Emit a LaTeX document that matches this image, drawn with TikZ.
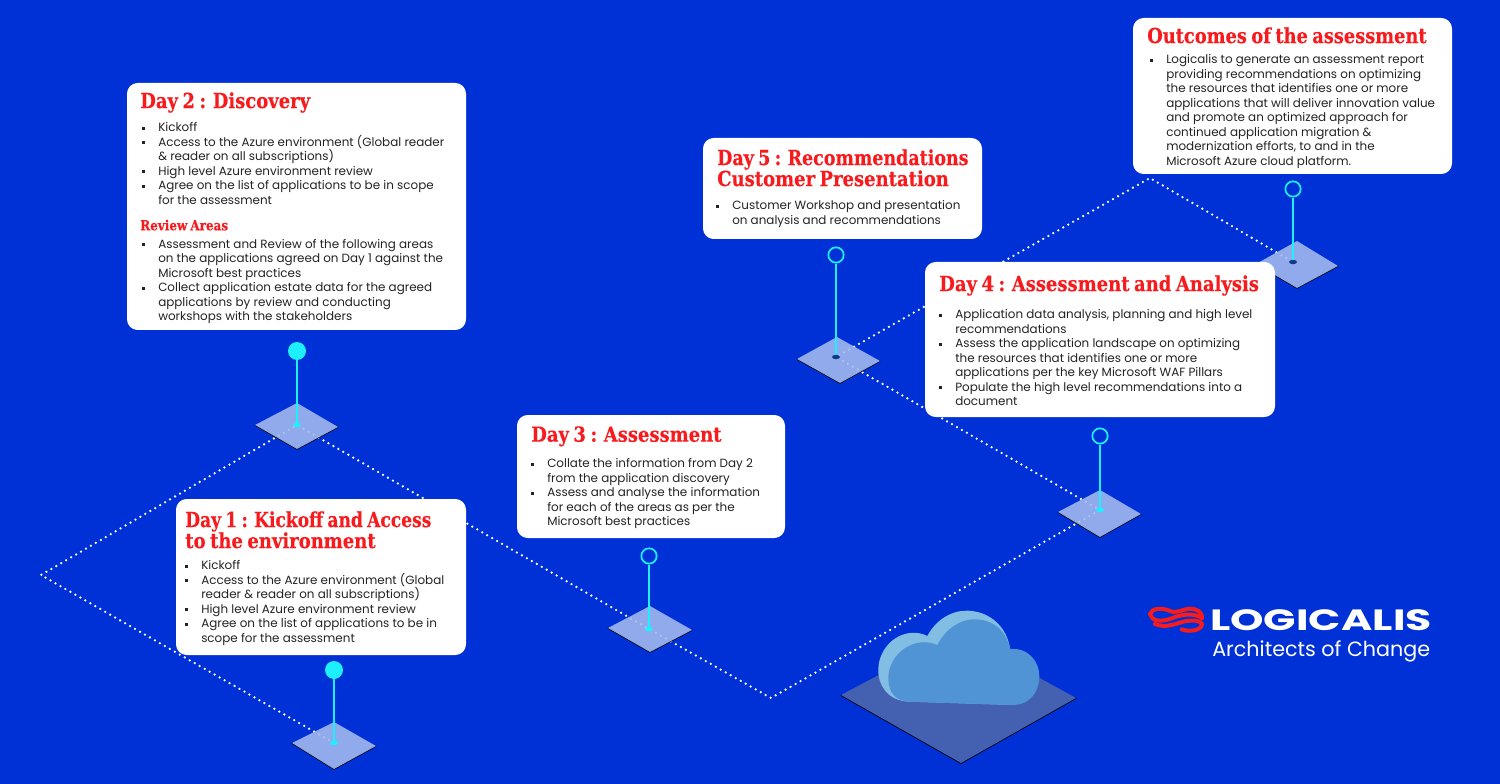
\documentclass[tikz,border=0pt]{standalone}
\usepackage{fontspec}
\setmainfont{Poppins}
\newfontfamily\slab[FakeStretch=0.865,WordSpace=0.72,FakeBold=0.25]{DejaVu Serif}
\newfontfamily\logofont[FakeStretch=1.45]{Poppins}
\definecolor{bg}{HTML}{0031D7}
\definecolor{ttl}{HTML}{F71B1E}
\definecolor{ink}{HTML}{232323}
\definecolor{cyn}{HTML}{1EEFFF}
\definecolor{plat}{HTML}{A4BBEE}
\definecolor{cloudplat}{HTML}{4460B0}
\definecolor{cloudback}{HTML}{82BDE4}
\definecolor{cloudfront}{HTML}{5094D6}
\definecolor{dotdark}{HTML}{123A8A}
\newcommand{\bodyfont}{\fontsize{8.95pt}{10.875pt}\selectfont\lineskiplimit=-100pt\relax}
\newcommand{\strutb}{\rule[-2.6pt]{0pt}{10.875pt}}
\newcommand{\bl}{\strutb\llap{\rule[1.7pt]{2.25pt}{2.25pt}\hspace{9.8pt}}}
\newcommand{\cl}{\strutb}
\tikzset{
  x=0.75pt,y=-0.75pt,
  card/.style={fill=white,rounded corners=8pt,inner sep=0pt},
  titletext/.style={anchor=north west,inner sep=0pt,align=left,text=ttl,font=\slab\bfseries\fontsize{15.6pt}{15.75pt}\selectfont},
  subtext/.style={anchor=north west,inner sep=0pt,align=left,text=ttl,font=\slab\bfseries\fontsize{10.4pt}{12pt}\selectfont},
  bodytext/.style={anchor=north west,inner sep=0pt,align=left,text=ink,font=\bodyfont},
  route/.style={draw=white,line width=1.9pt,line cap=round,dash pattern=on 0pt off 4.3pt},
  platform/.style={fill=plat,opacity=.88},
  platedge/.style={draw=black,line width=1pt},
  stem/.style={draw=cyn,line width=1.5pt},
  solidpin/.style={circle,fill=cyn,inner sep=0pt,minimum size=13.5pt},
  hollowpin/.style={circle,draw=cyn,line width=1.3pt,inner sep=0pt,minimum size=11.5pt},
}
\newcommand{\plat}[4]{%
  \draw[platedge] (#1) -- (#4) -- (#3);
  \fill[platform] (#1) -- (#2) -- (#3) -- (#4) -- cycle;
}
\begin{document}
\begin{tikzpicture}
\useasboundingbox (0,0) rectangle (1500,784);
\fill[bg] (0,0) rectangle (1500,784);

% route
\coordinate (turnL) at (41,575);
\coordinate (turnB) at (771,698);
\coordinate (turnT) at (1150,178);
\coordinate (b1) at (334,743);
\coordinate (b2) at (297,425);
\coordinate (b3) at (649,629);
\coordinate (b4) at (1100,510);
\coordinate (b5) at (836,357);
\coordinate (b6) at (1293,262);
\draw[route] (b1) -- (turnL) -- (b2) -- (b3) -- (turnB) -- (b4) -- (b5) -- (turnT) -- (b6);

% platforms
\plat{292,743}{334,722}{376,746}{334,769}
\plat{255,425}{297,403}{338,427}{297,449}
\plat{608,628}{650,606}{692,630}{650,652}
\plat{1058,512}{1100,490}{1141,514}{1100,537}
\plat{797,359}{837,337}{880,361}{840,383}
\plat{1256,264}{1297,241}{1338,266}{1297,288}

% pins
\node[solidpin] (p1) at (334,670) {};
\node[solidpin] (p2) at (297,351) {};
\node[hollowpin] (p3) at (649,556) {};
\node[hollowpin] (p4) at (1100,436) {};
\node[hollowpin] (p5) at (836,255) {};
\node[hollowpin] (p6) at (1293,189) {};
\draw[stem] (p1) -- (b1);
\draw[stem] (p2) -- (b2);
\draw[stem] (p3) -- (b3);
\draw[stem] (p4) -- (b4);
\draw[stem] (p5) -- (b5);
\draw[stem] (p6) -- (b6);
\fill[cyn] (b1) ellipse (4 and 2.2);
\fill[cyn] (b2) ellipse (4 and 2.2);
\fill[cyn] (b3) ellipse (4 and 2.2);
\fill[cyn] (b4) ellipse (4 and 2.2);
\fill[dotdark] (b5) ellipse (4 and 2.2);
\fill[dotdark] (b6) ellipse (4 and 2.2);

% cloud platform
\draw[black,line width=1.2pt] (841,695) -- (961,763) -- (1076,698);
\fill[cloudplat] (841,695) -- (958,633) -- (1076,698) -- (961,763) -- cycle;

% cloud
\begin{scope}[shift={(820,590)},x=0.25pt,y=-0.25pt]
\fill[cloudback] (270,335) .. controls (205,335) and (172,285) .. (175,235)
  .. controls (178,160) and (255,105) .. (322,138)
  .. controls (350,85) and (400,60) .. (445,62)
  .. controls (510,65) and (560,110) .. (570,175)
  -- (580,345) -- cycle;
\fill[cloudfront] (270,335) .. controls (225,335) and (205,305) .. (205,265)
  .. controls (205,190) and (285,135) .. (352,165)
  .. controls (380,110) and (430,85) .. (470,88)
  .. controls (525,92) and (560,125) .. (570,177)
  .. controls (625,172) and (658,215) .. (658,258)
  .. controls (658,310) and (625,345) .. (580,345)
  -- cycle;
\end{scope}

% cards
\node[card,minimum width=254.25pt,minimum height=185.25pt] (day2) at (296.5,206.5) {};
\node[card,minimum width=217.5pt,minimum height=117pt] (day1) at (321,577) {};
\node[card,minimum width=201pt,minimum height=92.25pt] (day3) at (651,476.5) {};
\node[card,minimum width=209.25pt,minimum height=75.75pt] (day5) at (842.5,188.5) {};
\node[card,minimum width=262.5pt,minimum height=116.25pt] (day4) at (1100,339.5) {};
\node[card,minimum width=239.25pt,minimum height=117pt] (out) at (1292.5,96) {};

% day 2
\node[titletext] (t2) at (140,92) {Day 2 : Discovery};
\node[bodytext] (b2a) at (158,120.6) {\bl Kickoff\\\bl Access to the Azure environment (Global reader\\\cl \& reader on all subscriptions)\\\bl High level Azure environment review\\\bl Agree on the list of applications to be in scope\\\cl for the assessment};
\node[subtext] (r2) at (140,219.5) {Review Areas};
\node[bodytext] (b2b) at (158,237.1) {\bl Assessment and Review of the following areas\\\cl on the applications agreed on Day 1 against the\\\cl Microsoft best practices\\\bl Collect application estate data for the agreed\\\cl applications by review and conducting\\\cl workshops with the stakeholders};

% day 1
\node[titletext] (t1) at (185,511) {\scalebox{0.95}[1]{Day 1 : Kickoff and Access}\\to the environment};
\node[bodytext] (b1a) at (201,558.6) {\bl Kickoff\\\bl Access to the Azure environment (Global\\\cl reader \& reader on all subscriptions)\\\bl High level Azure environment review\\\bl Agree on the list of applications to be in\\\cl scope for the assessment};

% day 3
\node[titletext] (t3) at (531,426) {Day 3 : Assessment};
\node[bodytext] (b3a) at (547,456.6) {\bl Collate the information from Day 2\\\cl from the application discovery\\\bl Assess and analyse the information\\\cl for each of the areas as per the\\\cl Microsoft best practices};

% day 5
\node[titletext] (t5) at (717,149) {\scalebox{0.97}[1]{Day 5 : Recommendations}\\Customer Presentation};
\node[bodytext] (b5a) at (732,198.6) {\bl Customer Workshop and presentation\\\cl on analysis and recommendations};

% day 4
\node[titletext] (t4) at (939,275) {Day 4 : Assessment and Analysis};
\node[bodytext] (b4a) at (955,307.6) {\bl Application data analysis, planning and high level\\\cl recommendations\\\bl Assess the application landscape on optimizing\\\cl the resources that identifies one or more\\\cl applications per the key Microsoft WAF Pillars\\\bl Populate the high level recommendations into a\\\cl document};

% outcomes
\node[titletext] (t6) at (1147,27) {\scalebox{0.99}[1]{Outcomes of the assessment}};
\node[bodytext] (b6a) at (1166,52.6) {\bl Logicalis to generate an assessment report\\\cl providing recommendations on optimizing\\\cl the resources that identifies one or more\\\cl applications that will deliver innovation value\\\cl and promote an optimized approach for\\\cl continued application migration \&\\\cl modernization efforts, to and in the\\\cl Microsoft Azure cloud platform.};

% logo
\begin{scope}[shift={(1140,600)},x=0.25pt,y=-0.25pt]
\draw[ttl,line width=3pt,line cap=round] (30,42) .. controls (36,24) and (65,22) .. (90,33) .. controls (112,42) and (130,26) .. (150,26) .. controls (170,26) and (185,36) .. (186,50);
\draw[ttl,line width=3pt,line cap=round] (30,42) .. controls (34,62) and (60,68) .. (95,55) .. controls (125,42) and (165,38) .. (186,55);
\draw[ttl,line width=3pt,line cap=round] (45,72) .. controls (75,85) and (105,72) .. (130,65) .. controls (160,58) and (183,63) .. (186,72) .. controls (186,90) and (150,98) .. (125,88);
\end{scope}
\node[anchor=base west,inner sep=0pt,text=white,font=\logofont\bfseries\fontsize{22pt}{22pt}\selectfont] (logo) at (1210,630) {LOGICALIS};
\node[anchor=base west,inner sep=0pt,text=white,font=\fontsize{15.5pt}{15.5pt}\selectfont] (tag) at (1212,656) {Architects of Change};
\end{tikzpicture}
\end{document}
